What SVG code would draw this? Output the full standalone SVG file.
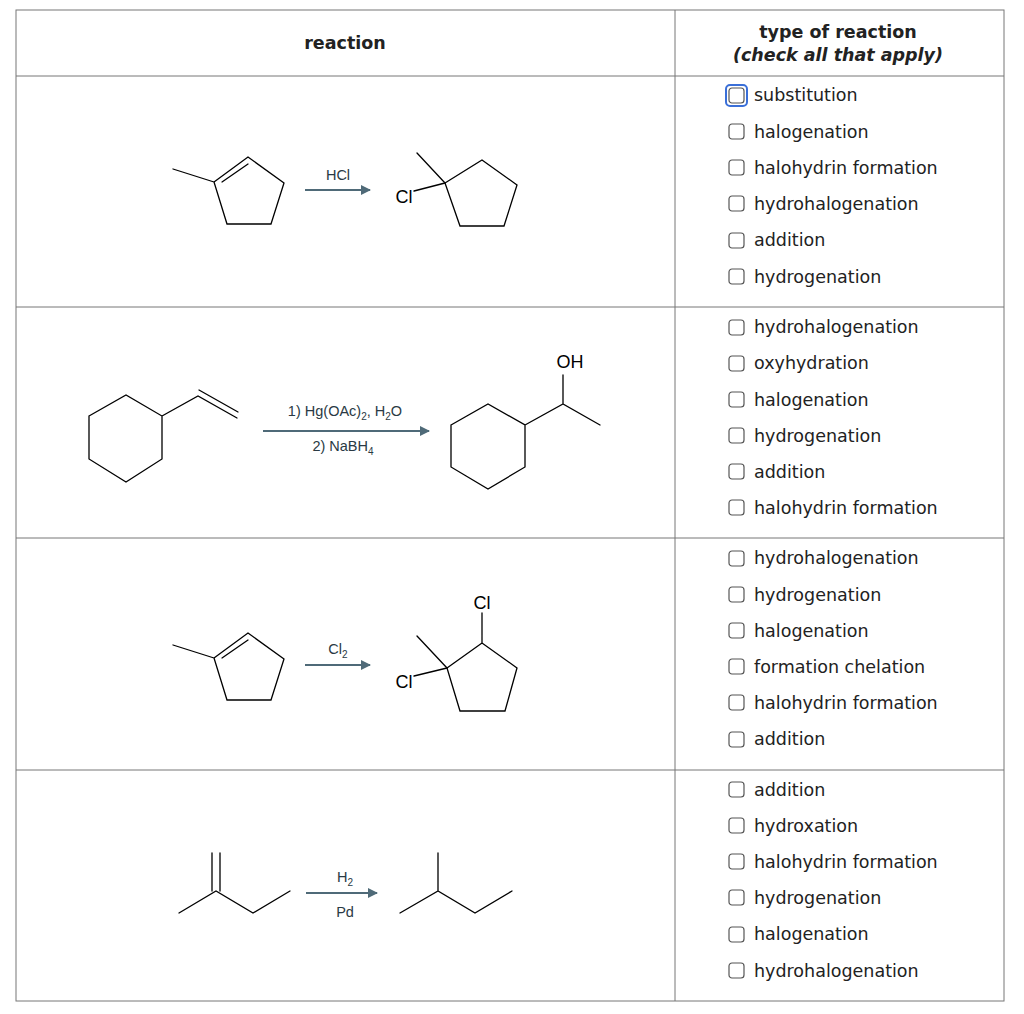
<svg xmlns="http://www.w3.org/2000/svg" width="1024" height="1014" viewBox="0 0 1024 1014">
<defs>
<style>
.g{stroke:#777;stroke-width:1;fill:none}
.b{stroke:#000;stroke-width:1.3;fill:none;stroke-linecap:round}
.a{stroke:#4f6a78;stroke-width:2;fill:none}
.rg{font-family:"Liberation Sans",Arial,sans-serif;font-size:14.5px;fill:#2a3a44;text-anchor:middle}
.at{font-family:"Liberation Sans",Arial,sans-serif;font-size:18px;fill:#000;text-anchor:middle}
.o{font-family:"DejaVu Sans",Verdana,sans-serif;font-size:17.5px;fill:#222}
.h{font-family:"DejaVu Sans",Verdana,sans-serif;font-size:17.5px;font-weight:bold;fill:#222;text-anchor:middle}
.cb{fill:#fff;stroke:#555;stroke-width:1.2}
</style>
<marker id="ah" viewBox="0 0 10 10" refX="9" refY="5" markerWidth="5" markerHeight="5" orient="auto"><path d="M0,0 L10,5 L0,10 z" fill="#4f6a78"/></marker>
<rect id="box" x="0" y="0" width="15" height="15" rx="3"/>
</defs>
<rect width="1024" height="1014" fill="#fff"/>
<g id="table" class="g">
<rect x="16" y="10" width="988" height="991"/>
<line x1="675" y1="10" x2="675" y2="1001"/>
<line x1="16" y1="76" x2="1004" y2="76"/>
<line x1="16" y1="307" x2="1004" y2="307"/>
<line x1="16" y1="538" x2="1004" y2="538"/>
<line x1="16" y1="770" x2="1004" y2="770"/>
</g>
<g id="headers">
<text class="h" x="345" y="49">reaction</text>
<text class="h" x="838" y="38">type of reaction</text>
<text class="h" x="838" y="61" font-style="italic">(check all that apply)</text>
</g>
<g id="row1">
<path class="b" d="M173,169 L214,182 M214,182 L248,157 L284,183 L271,224 L227,224 Z"/>
<line class="b" x1="222" y1="182" x2="248" y2="164"/>
<text class="rg" x="338" y="180">HCl</text>
<path class="b" d="M417,153 L445,183 M445,183 L482,160 L517,185 L504,226 L460,226 Z"/>
<line class="b" x1="414" y1="191" x2="445" y2="183"/>
<text class="at" x="404" y="203">Cl</text>
</g>
<g id="row2">
<path class="b" d="M89,416 L126,395 L162,416 L162,459 L126,482 L89,459 Z M162,416 L198,396 L237,418 M199,390 L238,412"/>
<text class="rg" x="345" y="416">1)  Hg(OAc)<tspan font-size="10" dy="4">2</tspan><tspan dy="-4">, H</tspan><tspan font-size="10" dy="4">2</tspan><tspan dy="-4">O</tspan></text>
<text class="rg" x="343" y="451">2)  NaBH<tspan font-size="10" dy="4">4</tspan></text>
<path class="b" d="M451,425 L488,404 L525,425 L525,467 L488,489 L451,467 Z M525,425 L563,404 L600,425 M563,404 L563,375"/>
<text class="at" x="570" y="368">OH</text>
</g>
<g id="row3">
<path class="b" d="M173,645 L214,658 M214,658 L248,633 L284,659 L271,700 L227,700 Z"/>
<line class="b" x1="222" y1="658" x2="248" y2="640"/>
<text class="rg" x="338" y="654">Cl<tspan font-size="10" dy="4">2</tspan></text>
<path class="b" d="M417,636 L447,668 M447,668 L482,643 L517,668 L505,711 L460,711 Z M482,643 L482,613"/>
<line class="b" x1="414" y1="676" x2="447" y2="668"/>
<text class="at" x="404" y="688">Cl</text>
<text class="at" x="482" y="609">Cl</text>
</g>
<g id="row4">
<path class="b" d="M179,913 L216,891 L253,913 L290,891 M212,891 L212,853 M220,891 L220,853"/>
<text class="rg" x="345" y="882">H<tspan font-size="10" dy="4">2</tspan></text>
<text class="rg" x="345" y="917">Pd</text>
<path class="b" d="M400,913 L438,891 L475,913 L512,891 M438,891 L438,853"/>
</g>
<g id="connectors">
<line class="a" x1="305" y1="190" x2="370" y2="190" marker-end="url(#ah)"/>
<line class="a" x1="263" y1="431" x2="429" y2="431" marker-end="url(#ah)"/>
<line class="a" x1="305" y1="665" x2="370" y2="665" marker-end="url(#ah)"/>
<line class="a" x1="306" y1="893" x2="377" y2="893" marker-end="url(#ah)"/>
</g>
<g id="options">
<rect x="726" y="85" width="21" height="21" rx="4" fill="none" stroke="#3a6fd8" stroke-width="2"/>
<use href="#box" class="cb" x="729" y="88"/><text class="o" x="754" y="101">substitution</text>
<use href="#box" class="cb" x="729" y="124"/><text class="o" x="754" y="138">halogenation</text>
<use href="#box" class="cb" x="729" y="160"/><text class="o" x="754" y="174">halohydrin formation</text>
<use href="#box" class="cb" x="729" y="196"/><text class="o" x="754" y="210">hydrohalogenation</text>
<use href="#box" class="cb" x="729" y="233"/><text class="o" x="754" y="246">addition</text>
<use href="#box" class="cb" x="729" y="269"/><text class="o" x="754" y="283">hydrogenation</text>
<use href="#box" class="cb" x="729" y="320"/><text class="o" x="754" y="333">hydrohalogenation</text>
<use href="#box" class="cb" x="729" y="356"/><text class="o" x="754" y="369">oxyhydration</text>
<use href="#box" class="cb" x="729" y="392"/><text class="o" x="754" y="406">halogenation</text>
<use href="#box" class="cb" x="729" y="428"/><text class="o" x="754" y="442">hydrogenation</text>
<use href="#box" class="cb" x="729" y="464"/><text class="o" x="754" y="478">addition</text>
<use href="#box" class="cb" x="729" y="500"/><text class="o" x="754" y="514">halohydrin formation</text>
<use href="#box" class="cb" x="729" y="551"/><text class="o" x="754" y="564">hydrohalogenation</text>
<use href="#box" class="cb" x="729" y="587"/><text class="o" x="754" y="601">hydrogenation</text>
<use href="#box" class="cb" x="729" y="623"/><text class="o" x="754" y="637">halogenation</text>
<use href="#box" class="cb" x="729" y="659"/><text class="o" x="754" y="673">formation chelation</text>
<use href="#box" class="cb" x="729" y="695"/><text class="o" x="754" y="709">halohydrin formation</text>
<use href="#box" class="cb" x="729" y="732"/><text class="o" x="754" y="745">addition</text>
<use href="#box" class="cb" x="729" y="782"/><text class="o" x="754" y="796">addition</text>
<use href="#box" class="cb" x="729" y="818"/><text class="o" x="754" y="832">hydroxation</text>
<use href="#box" class="cb" x="729" y="854"/><text class="o" x="754" y="868">halohydrin formation</text>
<use href="#box" class="cb" x="729" y="890"/><text class="o" x="754" y="904">hydrogenation</text>
<use href="#box" class="cb" x="729" y="927"/><text class="o" x="754" y="940">halogenation</text>
<use href="#box" class="cb" x="729" y="963"/><text class="o" x="754" y="977">hydrohalogenation</text>
</g>
</svg>
